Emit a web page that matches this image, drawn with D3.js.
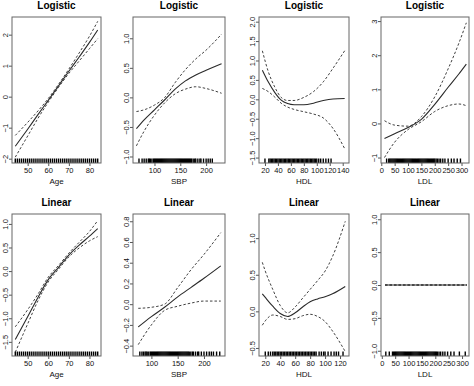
<!DOCTYPE html>
<html>
<head>
<meta charset="utf-8">
<script src="https://cdn.jsdelivr.net/npm/d3@7"></script>
<style>
  body { margin: 0; background: #fff; }
  svg { font-family: "Liberation Sans", Arial, sans-serif; }
</style>
</head>
<body>
<svg id="chart" width="474" height="386"></svg>
<script>
// ---------- data ----------
// Age
const ageX = [44, 50, 55, 60, 65, 70, 75, 80, 84];
const logAgeFit = [-1.60, -1.05, -0.58, -0.12, 0.35, 0.82, 1.28, 1.75, 2.15];
const logAgeUp  = [-1.25, -0.83, -0.46, -0.06, 0.40, 0.89, 1.41, 1.95, 2.43];
const logAgeLo  = [-1.95, -1.27, -0.70, -0.18, 0.30, 0.75, 1.15, 1.55, 1.87];
const linAgeFit = [-1.45, -0.97, -0.56, -0.18, 0.08, 0.34, 0.55, 0.74, 0.90];
const linAgeUp  = [-1.18, -0.82, -0.49, -0.13, 0.12, 0.38, 0.61, 0.84, 1.07];
const linAgeLo  = [-1.72, -1.12, -0.63, -0.23, 0.04, 0.30, 0.49, 0.64, 0.73];
const ageRug = [44, 45, 46, 47, 48, 49, 50, 51, 52, 53, 54, 55, 56, 57, 58, 59, 60, 61, 62, 63, 64,
                65, 66, 67, 68, 69, 70, 71, 72, 73, 74, 75, 76, 77, 78, 79, 80, 81, 82, 83, 84];

// SBP
const logSbpX   = [65, 80, 100, 120, 140, 160, 180, 200, 230];
const logSbpFit = [-0.53, -0.38, -0.21, -0.04, 0.14, 0.28, 0.38, 0.46, 0.57];
const logSbpUp  = [-0.24, -0.21, -0.13, 0.00, 0.25, 0.47, 0.65, 0.80, 1.07];
const logSbpLo  = [-0.82, -0.57, -0.30, -0.09, 0.06, 0.14, 0.18, 0.15, 0.07];
const linSbpX   = [75, 100, 125, 150, 175, 200, 232];
const linSbpFit = [-0.22, -0.12, -0.03, 0.07, 0.16, 0.25, 0.37];
const linSbpUp  = [-0.04, -0.03, 0.00, 0.16, 0.33, 0.48, 0.69];
const linSbpLo  = [-0.39, -0.20, -0.06, -0.02, 0.01, 0.03, 0.03];
const sbpRugLog = [70, 76, 80, 84, 88, 90, 92, 95, 98, 100, 102, 104, 106, 108, 110, 112, 114, 116, 118,
                   120, 122, 124, 126, 128, 130, 132, 134, 136, 138, 140, 142, 144, 146, 148, 150, 152,
                   154, 156, 158, 160, 162, 164, 166, 168, 170, 172, 175, 178, 180, 184, 188, 190, 195,
                   200, 204, 208, 212];
const sbpRugLin = [78, 82, 85, 88, 90, 92, 95, 98, 100, 102, 104, 106, 108, 110, 112, 114, 116, 118,
                   120, 122, 124, 126, 128, 130, 132, 134, 136, 138, 140, 142, 144, 146, 148, 150, 152,
                   154, 156, 158, 160, 162, 164, 166, 168, 170, 172, 175, 178, 180, 184, 188, 190, 195,
                   200, 205, 210, 214, 218, 224, 230];

// HDL
const logHdlX   = [16, 25, 35, 45, 55, 65, 80, 95, 110, 125, 143];
const logHdlFit = [0.75, 0.45, 0.18, -0.02, -0.11, -0.14, -0.14, -0.10, -0.03, 0.01, 0.02];
const logHdlUp  = [1.25, 0.72, 0.32, 0.05, -0.03, -0.03, 0.05, 0.20, 0.45, 0.80, 1.25];
const logHdlLo  = [0.28, 0.20, 0.06, -0.10, -0.20, -0.26, -0.32, -0.38, -0.48, -0.75, -1.27];
const linHdlX   = [16, 20, 30, 40, 50, 60, 70, 80, 90, 100, 110, 127];
const linHdlFit = [0.24, 0.19, 0.07, -0.03, -0.07, -0.02, 0.06, 0.13, 0.17, 0.20, 0.24, 0.34];
const linHdlUp  = [0.67, 0.55, 0.30, 0.08, -0.02, 0.06, 0.18, 0.30, 0.42, 0.55, 0.75, 1.23];
const linHdlLo  = [-0.19, -0.13, -0.05, -0.07, -0.11, -0.10, -0.06, -0.04, -0.07, -0.14, -0.27, -0.55];
const hdlRugLog = [20, 26, 28, 30, 32, 34, 36, 38, 40, 42, 44, 46, 48, 50, 52, 54, 56, 58, 60, 62, 64,
                   66, 68, 70, 72, 74, 76, 78, 80, 82, 84, 86, 88, 90, 92, 94, 96, 98, 100, 103, 106,
                   110, 114, 118, 122];
const hdlRugLin = [20, 24, 27, 30, 32, 34, 36, 38, 40, 42, 44, 46, 48, 50, 52, 54, 56, 58, 60, 62, 64,
                   66, 68, 70, 72, 74, 76, 78, 80, 82, 84, 86, 88, 92, 95, 98, 100, 104, 108, 112, 115,
                   118, 124];

// LDL
const logLdlX   = [12, 50, 100, 150, 200, 250, 290, 318];
const logLdlFit = [-0.44, -0.30, -0.12, 0.12, 0.56, 1.06, 1.45, 1.74];
const logLdlUp  = [0.08, -0.05, -0.08, 0.20, 0.78, 1.60, 2.35, 2.95];
const logLdlLo  = [-1.00, -0.55, -0.18, 0.05, 0.35, 0.52, 0.57, 0.52];
const linLdlX   = [12, 318];
const linLdlFit = [0, 0];
const linLdlUp  = [0, 0];
const linLdlLo  = [0, 0];
const ldlRugLog = [20, 28, 32, 36, 40, 44, 48, 52, 56, 60, 64, 68, 72, 76, 80, 84, 88, 92, 96, 100,
                   104, 108, 112, 116, 120, 124, 128, 132, 136, 140, 144, 148, 152, 156, 160, 164, 168,
                   172, 176, 180, 184, 188, 192, 196, 200, 205, 210, 216, 222, 230, 238, 250, 262, 272,
                   284, 296];
const ldlRugLin = [15, 28, 40, 44, 48, 52, 56, 60, 64, 68, 72, 76, 80, 84, 88, 92, 96, 100, 104, 108,
                   112, 116, 120, 124, 128, 132, 136, 140, 144, 148, 152, 156, 160, 164, 168, 172, 176,
                   180, 184, 188, 192, 196, 200, 204, 208, 214, 220, 228, 236, 246, 258, 270, 290, 312];

// tick values
const ageTicks = [50, 60, 70, 80];
const sbpTicks = [100, 150, 200];
const hdlTicksLog = [20, 40, 60, 80, 100, 120, 140];
const hdlTicksLin = [20, 40, 60, 80, 100, 120];
const ldlTicks = [0, 50, 100, 150, 200, 250, 300];

// ---------- panels ----------
const panels = [
  {title: "Logistic", label: "Age", xs: ageX, fit: logAgeFit, up: logAgeUp, lo: logAgeLo, rug: ageRug,
   xd: [42.4, 85.6], yd: [-2.14, 2.57], xt: ageTicks, yt: [-2, -1, 0, 1, 2], fmt: d3.format("d")},
  {title: "Logistic", label: "SBP", xs: logSbpX, fit: logSbpFit, up: logSbpUp, lo: logSbpLo, rug: sbpRugLog,
   xd: [58.4, 236.6], yd: [-1.11, 1.36], xt: sbpTicks, yt: [-1, -0.5, 0, 0.5, 1], fmt: d3.format(".1f")},
  {title: "Logistic", label: "HDL", xs: logHdlX, fit: logHdlFit, up: logHdlUp, lo: logHdlLo, rug: hdlRugLog,
   xd: [10.8, 149.7], yd: [-1.64, 2.12], xt: hdlTicksLog, yt: [-1.5, -1, -0.5, 0, 0.5, 1, 1.5, 2], fmt: d3.format(".1f")},
  {title: "Logistic", label: "LDL", xs: logLdlX, fit: logLdlFit, up: logLdlUp, lo: logLdlLo, rug: ldlRugLog,
   xd: [-1, 328], yd: [-1.16, 3.12], xt: ldlTicks, yt: [-1, 0, 1, 2, 3], fmt: d3.format("d")},
  {title: "Linear", label: "Age", xs: ageX, fit: linAgeFit, up: linAgeUp, lo: linAgeLo, rug: ageRug,
   xd: [42.4, 85.6], yd: [-1.80, 1.21], xt: ageTicks, yt: [-1.5, -1, -0.5, 0, 0.5, 1], fmt: d3.format(".1f")},
  {title: "Linear", label: "SBP", xs: linSbpX, fit: linSbpFit, up: linSbpUp, lo: linSbpLo, rug: sbpRugLin,
   xd: [65, 240], yd: [-0.50, 0.87], xt: sbpTicks, yt: [-0.4, -0.2, 0, 0.2, 0.4, 0.6, 0.8], fmt: d3.format(".1f")},
  {title: "Linear", label: "HDL", xs: linHdlX, fit: linHdlFit, up: linHdlUp, lo: linHdlLo, rug: hdlRugLin,
   xd: [11.6, 132], yd: [-0.61, 1.33], xt: hdlTicksLin, yt: [-0.5, 0, 0.5, 1], fmt: d3.format(".1f")},
  {title: "Linear", label: "LDL", xs: linLdlX, fit: linLdlFit, up: linLdlUp, lo: linLdlLo, rug: ldlRugLin,
   xd: [-3, 326], yd: [-1.08, 1.08], xt: ldlTicks, yt: [-1, -0.5, 0, 0.5, 1], fmt: d3.format(".1f")}
];

// plot boxes (left,right) per column and (top,bottom) per row
const cols = [[12, 101], [133, 225], [259, 349], [381, 469]];
const rows = [[17, 163], [214, 356]];
const ink = "#2a2a2a";
const fontStack = "'Liberation Sans', Arial, sans-serif";

const svg = d3.select("#chart");

panels.forEach((p, i) => {
  const [x0, x1] = cols[i % 4];
  const [y0, y1] = rows[Math.floor(i / 4)];

  const x = d3.scaleLinear().domain(p.xd).range([x0, x1]);
  const y = d3.scaleLinear().domain(p.yd).range([y1, y0]);
  const g = svg.append("g");

  // title
  g.append("text")
    .attr("x", (x0 + x1) / 2).attr("y", y0 - 8)
    .attr("text-anchor", "middle")
    .style("font-size", "10px").style("font-weight", "bold")
    .text(p.title);

  // x axis
  const xa = g.append("g")
    .attr("transform", `translate(0,${y1})`)
    .call(d3.axisBottom(x).tickValues(p.xt).tickSize(3).tickPadding(1.5).tickFormat(d3.format("d")));
  xa.select(".domain").remove();
  xa.selectAll("line").attr("stroke", "#555");
  xa.selectAll("text").style("font-size", "7.5px").attr("fill", "#111")
    .style("font-family", fontStack);

  // y axis
  const ya = g.append("g")
    .attr("transform", `translate(${x0},0)`)
    .call(d3.axisLeft(y).tickValues(p.yt).tickSize(3).tickFormat(p.fmt));
  ya.select(".domain").remove();
  ya.selectAll("line").attr("stroke", "#555");
  ya.selectAll("text")
    .attr("x", null).attr("dy", null)
    .attr("text-anchor", "middle")
    .attr("transform", "translate(-4.5,0) rotate(-90)")
    .style("font-size", "7.5px").attr("fill", "#111")
    .style("font-family", fontStack);

  // axis label
  g.append("text")
    .attr("x", (x0 + x1) / 2).attr("y", y1 + 21)
    .attr("text-anchor", "middle")
    .style("font-size", "8px").style("font-weight", "normal")
    .attr("fill", "#111")
    .text(p.label);

  // rug
  g.append("g").selectAll("line")
    .data(p.rug)
    .join("line")
    .attr("x1", d => x(d)).attr("x2", d => x(d))
    .attr("y1", y1).attr("y2", y1 - 4.5)
    .attr("stroke", "#000").attr("stroke-width", 1.4);

  // curves
  const pts = arr => arr.map((v, k) => [p.xs[k], v]);
  const line = d3.line().x(d => x(d[0])).y(d => y(d[1])).curve(d3.curveMonotoneX);

  g.append("path").attr("d", line(pts(p.fit)))
    .attr("fill", "none").attr("stroke", ink).attr("stroke-width", 1.1);
  [p.up, p.lo].forEach(s => {
    g.append("path").attr("d", line(pts(s)))
      .attr("fill", "none").attr("stroke", ink).attr("stroke-width", 0.9)
      .attr("stroke-dasharray", "2.5,2");
  });

  // box
  g.append("rect")
    .attr("x", x0).attr("y", y0)
    .attr("width", x1 - x0).attr("height", y1 - y0)
    .attr("fill", "none").attr("stroke", "#666").attr("stroke-width", 1);
});
</script>
</body>
</html>
